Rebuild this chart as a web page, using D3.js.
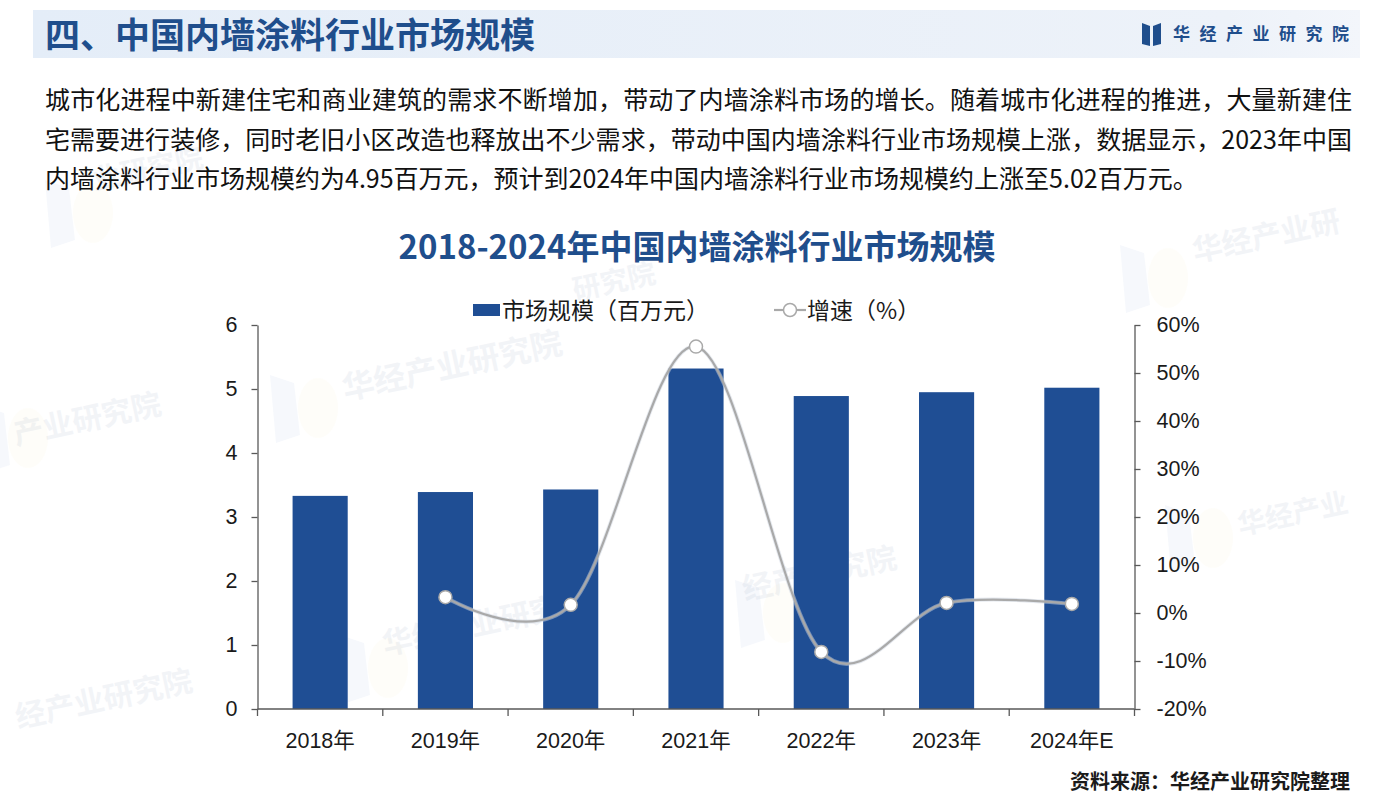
<!DOCTYPE html>
<html>
<head>
<meta charset="utf-8">
<script src="https://cdn.jsdelivr.net/npm/d3@7"></script>
<style>
  body { margin: 0; background: #fff; }
  svg { display: block; }
</style>
</head>
<body>
<svg id="chart" width="1393" height="800"></svg>
<script>
// data
var categories = ["2018年", "2019年", "2020年", "2021年", "2022年", "2023年", "2024年E"];
var marketSize = [3.33, 3.39, 3.43, 5.32, 4.89, 4.95, 5.02];      // 百万元
var growthYears = ["2019年", "2020年", "2021年", "2022年", "2023年", "2024年E"];
var growthRate = [3.3, 1.7, 55.5, -8.1, 2.1, 1.9];                  // %
var leftTicks = [0, 1, 2, 3, 4, 5, 6];
var rightTicks = [-20, -10, 0, 10, 20, 30, 40, 50, 60];

var pageTitle = "四、中国内墙涂料行业市场规模";
var chartTitle = "2018-2024年中国内墙涂料行业市场规模";
var introLines = [
  "城市化进程中新建住宅和商业建筑的需求不断增加，带动了内墙涂料市场的增长。随着城市化进程的推进，大量新建住",
  "宅需要进行装修，同时老旧小区改造也释放出不少需求，带动中国内墙涂料行业市场规模上涨，数据显示，2023年中国",
  "内墙涂料行业市场规模约为4.95百万元，预计到2024年中国内墙涂料行业市场规模约上涨至5.02百万元。"
];
var legendNames = ["市场规模（百万元）", "增速（%）"];
var sourceText = "资料来源：华经产业研究院整理";
var brand = "华经产业研究院";

var cjk = "'Noto Sans CJK SC', 'Noto Sans', sans-serif";
var latin = "'Liberation Sans', Arial, 'Noto Sans CJK SC', sans-serif";
var barColor = "#1f4e94";
var titleBlue = "#1f4e8c";
var lineGray = "#a9a9a9";
var axisGray = "#595959";

var svg = d3.select("#chart");
var defs = svg.append("defs");

// header band
var grad = defs.append("linearGradient").attr("id", "band").attr("x1", 0).attr("x2", 1);
grad.append("stop").attr("offset", 0).attr("stop-color", "#e4edf8");
grad.append("stop").attr("offset", 0.9).attr("stop-color", "#edf2f9");
grad.append("stop").attr("offset", 1).attr("stop-color", "#f3f6fb");

// watermarks (drawn first, very faint)
var marks = [[345, 400, 32, brand], [16, 445, 30, "产业研究院"], [1195, 262, 30, "华经产业研"],
             [1240, 535, 28, "华经产业"], [385, 655, 30, brand], [18, 728, 30, "经产业研究院"],
             [745, 600, 30, "经产  研究院"], [95, 190, 28, "业研究院"], [575, 300, 28, "研究院"]];
var wm = svg.append("g").attr("class", "watermark");
marks.forEach(function (m) {
  wm.append("text").attr("x", m[0]).attr("y", m[1])
    .attr("transform", "rotate(-12," + m[0] + "," + m[1] + ")")
    .attr("font-family", cjk).attr("font-size", m[2]).attr("font-weight", 700)
    .attr("fill", "#8da0bf").attr("opacity", 0.11).text(m[3]);
});
var shards = [[270, 370], [-20, 400], [1120, 240], [1165, 500], [340, 630], [735, 575], [45, 175]];
shards.forEach(function (s) {
  wm.append("path")
    .attr("d", "M" + s[0] + "," + (s[1] + 5) + " l24,8 l6,52 l-24,8 z")
    .attr("fill", "#9db4dd").attr("opacity", 0.09);
  wm.append("ellipse").attr("cx", s[0] + 48).attr("cy", s[1] + 38).attr("rx", 20).attr("ry", 30)
    .attr("fill", "#f7e2a6").attr("opacity", 0.07);
});

svg.append("rect").attr("x", 33).attr("y", 10).attr("width", 1327).attr("height", 48)
  .attr("fill", "url(#band)");
svg.append("text").attr("x", 45).attr("y", 48)
  .attr("font-family", cjk).attr("font-size", 35).attr("font-weight", 700)
  .attr("fill", titleBlue).text(pageTitle);

// brand logo
var logo = svg.append("g").attr("transform", "translate(1142,23)");
logo.append("path").attr("d", "M0,0 L8,3 L8,23 L0,21 Z").attr("fill", titleBlue);
logo.append("path").attr("d", "M11,3 L19,0 L19,21 L11,23 Z").attr("fill", titleBlue);
svg.append("text").attr("x", 1173).attr("y", 40)
  .attr("font-family", cjk).attr("font-size", 17).attr("font-weight", 700)
  .attr("letter-spacing", 9.5).attr("fill", titleBlue).text(brand);

// intro paragraph
introLines.forEach(function (line, i) {
  var t = svg.append("text").attr("x", 45).attr("y", 109 + i * 39.5)
    .attr("font-family", cjk).attr("font-size", 25).attr("fill", "#111").text(line);
  if (i < 2) t.attr("textLength", 1307).attr("lengthAdjust", "spacing");
});

// chart title
svg.append("text").attr("x", 697).attr("y", 259).attr("text-anchor", "middle")
  .attr("font-family", cjk).attr("font-size", 33).attr("font-weight", 700)
  .attr("fill", titleBlue).text(chartTitle);

// scales
var plotLeft = 257.5, plotRight = 1134.5, plotTop = 325, plotBottom = 709;
var x = d3.scaleBand().domain(categories).range([plotLeft, plotRight])
  .paddingInner(0.56).paddingOuter(0.28);
var yLeft = d3.scaleLinear().domain([0, 6]).range([plotBottom, plotTop]);
var yRight = d3.scaleLinear().domain([-20, 60]).range([plotBottom, plotTop]);
var step = x.step();

// bars
svg.append("g").selectAll("rect").data(marketSize).enter().append("rect")
  .attr("x", function (d, i) { return x(categories[i]); })
  .attr("y", function (d) { return yLeft(d); })
  .attr("width", x.bandwidth())
  .attr("height", function (d) { return yLeft(0) - yLeft(d); })
  .attr("fill", barColor);

// axes
function styleAxis(g) {
  g.selectAll("path.domain").attr("stroke", axisGray).attr("stroke-width", 1.3);
  g.selectAll(".tick line").attr("stroke", axisGray).attr("stroke-width", 1.3);
  g.selectAll(".tick text").attr("font-family", latin).attr("font-size", 21.5).attr("fill", "#1a1a1a");
}
var leftAxis = svg.append("g").attr("transform", "translate(" + plotLeft + ",0)")
  .call(d3.axisLeft(yLeft).tickValues(leftTicks).tickSize(6).tickSizeOuter(0).tickPadding(14)
    .tickFormat(d3.format("d")));
styleAxis(leftAxis);

var rightAxis = svg.append("g").attr("transform", "translate(" + plotRight + ",0)")
  .call(d3.axisRight(yRight).tickValues(rightTicks).tickSize(6).tickSizeOuter(0).tickPadding(16)
    .tickFormat(function (d) { return d + "%"; }));
styleAxis(rightAxis);

var bottomAxis = svg.append("g").attr("transform", "translate(0," + plotBottom + ")")
  .call(d3.axisBottom(x).tickSize(0).tickPadding(24));
styleAxis(bottomAxis);
bottomAxis.select("path.domain").attr("d", "M" + plotLeft + ",0H" + plotRight);
// x ticks sit on the band boundaries
var bounds = categories.map(function (c) { return x(c) - (step - x.bandwidth()) / 2; });
bounds.push(plotRight);
bottomAxis.selectAll("line.bound").data(bounds).enter().append("line").attr("class", "bound")
  .attr("x1", function (d) { return d; }).attr("x2", function (d) { return d; })
  .attr("y1", 0).attr("y2", 7).attr("stroke", axisGray).attr("stroke-width", 1.3);

// growth line
var pts = growthRate.map(function (v, i) {
  return [x(growthYears[i]) + x.bandwidth() / 2, yRight(v)];
});
var line = d3.line().curve(d3.curveCardinal.tension(0));
svg.append("path").attr("d", line(pts)).attr("fill", "none")
  .attr("stroke", "#ccd3df").attr("stroke-width", 4).attr("opacity", 0.5);
svg.append("path").attr("d", line(pts)).attr("fill", "none")
  .attr("stroke", lineGray).attr("stroke-width", 2.2);
svg.append("g").selectAll("circle").data(pts).enter().append("circle")
  .attr("cx", function (d) { return d[0]; }).attr("cy", function (d) { return d[1]; })
  .attr("r", 6.5).attr("fill", "#fff").attr("stroke", lineGray).attr("stroke-width", 1.5);

// legend
var lg = svg.append("g");
lg.append("rect").attr("x", 473).attr("y", 304).attr("width", 27).attr("height", 12).attr("fill", barColor);
lg.append("text").attr("x", 502).attr("y", 319).attr("font-family", cjk).attr("font-size", 23)
  .attr("fill", "#1a1a1a").text(legendNames[0]);
lg.append("line").attr("x1", 774).attr("x2", 806).attr("y1", 310).attr("y2", 310)
  .attr("stroke", lineGray).attr("stroke-width", 2.2);
lg.append("circle").attr("cx", 790).attr("cy", 310).attr("r", 6.5)
  .attr("fill", "#fff").attr("stroke", lineGray).attr("stroke-width", 1.5);
lg.append("text").attr("x", 807).attr("y", 319).attr("font-family", cjk).attr("font-size", 23)
  .attr("fill", "#1a1a1a").text(legendNames[1]);

// source
svg.append("text").attr("x", 1350).attr("y", 789).attr("text-anchor", "end")
  .attr("font-family", cjk).attr("font-size", 20).attr("font-weight", 700)
  .attr("fill", "#1a1a1a").text(sourceText);
</script>
</body>
</html>
